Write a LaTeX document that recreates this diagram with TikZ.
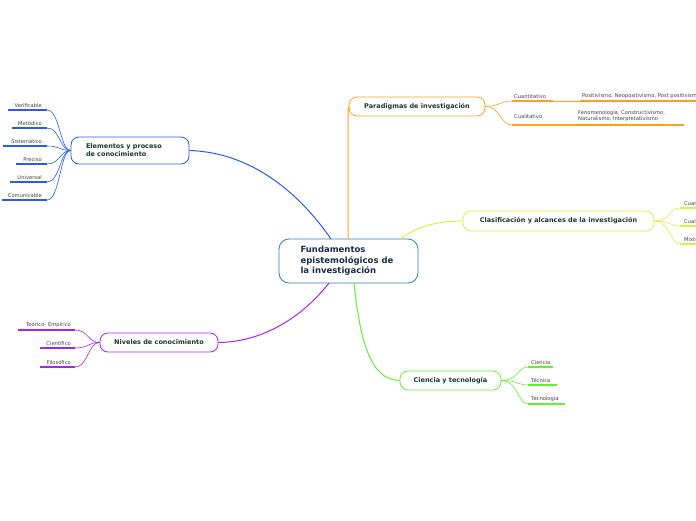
\documentclass[tikz,border=0pt]{standalone}
\usepackage{fontspec}
\setmainfont{DejaVu Sans}
\definecolor{cblue}{HTML}{2B5BE8}
\definecolor{corange}{HTML}{F7A12A}
\definecolor{cyel}{HTML}{DDEE44}
\definecolor{cgreen}{HTML}{66EE33}
\definecolor{cpurp}{HTML}{AA22EE}
\definecolor{ccent}{HTML}{2E7DC0}
\definecolor{ctxt}{HTML}{1A3A2A}
\definecolor{cnavy}{HTML}{1A2A4A}
\begin{document}
\begin{tikzpicture}[x=1pt,y=-1pt,
  topic/.style={draw=#1,line width=0.8pt,rounded corners=8pt,fill=white,font=\fontsize{6.5}{8}\selectfont\bfseries,text=ctxt,inner sep=0pt},
  leaf/.style={font=\fontsize{5.2}{6.3}\selectfont,text=black!75,inner sep=0pt,anchor=south},
  br/.style={draw=#1,line width=0.6pt},
  ul/.style={draw=#1,line width=1.3pt}]
\useasboundingbox (0,0) rectangle (696,520);
% central
\node[draw=ccent,line width=0.8pt,rounded corners=10pt,minimum width=139pt,minimum height=44pt,inner sep=0pt] (c) at (348.5,261) {};
\node[font=\fontsize{8.5}{10.5}\selectfont\bfseries,text=cnavy,align=left,anchor=west] (ct) at (297,261) {Fundamentos\\epistemológicos de\\la investigación};
% topics
\node[topic=corange,minimum width=136pt,minimum height=19pt] (p) at (417,106.5) {Paradigmas de investigación};
\node[topic=cyel,minimum width=191pt,minimum height=20pt] (cl) at (558.5,221) {Clasificación y alcances de la investigación};
\node[topic=cgreen,minimum width=101pt,minimum height=19pt] (ci) at (450.5,380.5) {Ciencia y tecnología};
\node[topic=cpurp,minimum width=118pt,minimum height=19pt] (n) at (159,342.5) {Niveles de conocimiento};
\node[topic=cblue,minimum width=118pt,minimum height=27pt,align=left,text width=88pt] (e) at (130,150.5) {Elementos y proceso\\de conocimiento};
% main connectors
\draw[br=corange,line width=1pt] (348,239) -- (348,120) .. controls (348,110) .. (p.west);
\draw[br=cyel,line width=1pt] (400,239) .. controls (420,225) and (440,221) .. (cl.west);
\draw[br=cgreen,line width=1pt] (354,283) .. controls (360,340) and (370,380) .. (ci.west);
\draw[br=cpurp,line width=1pt] (329,283) .. controls (300,320) and (260,342) .. (n.east);
\draw[br=cblue,line width=1pt] (331,239) .. controls (290,180) and (240,152) .. (e.east);
% paradigmas children
\coordinate (po) at (p.east);
\coordinate (q1) at (512,101); \coordinate (q1e) at (553,101);
\coordinate (q2) at (512,125); \coordinate (q2e) at (572,125);
\draw[br=corange] (po) .. controls (500,106) and (500,101) .. (q1);
\draw[br=corange] (po) .. controls (500,106) and (500,125) .. (q2);
\draw[ul=corange] (q1) -- (q1e); \draw[ul=corange] (q2) -- (q2e);
\node[leaf,anchor=south west] at (514,98.5) {Cuantitativo};
\node[leaf,anchor=south west] at (514,118.5) {Cualitativo};
\coordinate (r1) at (580,101); \coordinate (r1e) at (700,101);
\coordinate (r2) at (575,125); \coordinate (r2e) at (684,125);
\draw[br=corange] (q1e) .. controls (566,101) .. (r1);
\draw[ul=corange] (r1) -- (r1e); \draw[ul=corange] (q2e) -- (r2); \draw[ul=corange] (r2) -- (r2e);
\node[leaf,anchor=south west] at (582,98.5) {Positivismo, Neopositivismo, Post positivismo};
\node[leaf,anchor=south west,align=left] at (578,122) {Fenomenología, Constructivismo,\\Naturalismo, Interpretativismo};
% clasificación children
\foreach \y/\t in {208/Cuantitativo,226/Cualitativo,244/Mixto}{
  \draw[br=cyel] (cl.east) .. controls (670,221) and (670,\y) .. (680,\y);
  \draw[ul=cyel] (680,\y) -- (700,\y);
  \node[leaf,anchor=south west] at (684,\y-2.5) {\t};}
% ciencia children
\foreach \y/\w/\t in {367/553/Ciencia,385/557/Técnica,404/565/Tecnología}{
  \draw[br=cgreen] (ci.east) .. controls (518,380.5) and (518,\y) .. (528,\y);
  \draw[ul=cgreen] (528,\y) -- (\w,\y);
  \node[leaf,anchor=south west] at (531,\y-2.5) {\t};}
% niveles children
\foreach \y/\s/\t in {330/18/Teórico- Empírico,348/40/Científico,367/40/Filosófico}{
  \draw[br=cpurp] (n.west) .. controls (88,342.5) and (88,\y) .. (75,\y);
  \draw[ul=cpurp] (\s,\y) -- (75,\y);
  \node[leaf,anchor=south east] at (71,\y-2.5) {\t};}
% elementos children
\foreach \y/\s/\t in {110/8/Verificable,128/12/Metódico,146/3/Sistemático,164/16/Preciso,182/10/Universal,200/2/Comunicable}{
  \draw[br=cblue] (e.west) .. controls (60,150.5) and (60,\y) .. (47,\y);
  \draw[ul=cblue] (\s,\y) -- (47,\y);
  \node[leaf,anchor=south east] at (42,\y-2.5) {\t};}
\end{tikzpicture}
\end{document}
